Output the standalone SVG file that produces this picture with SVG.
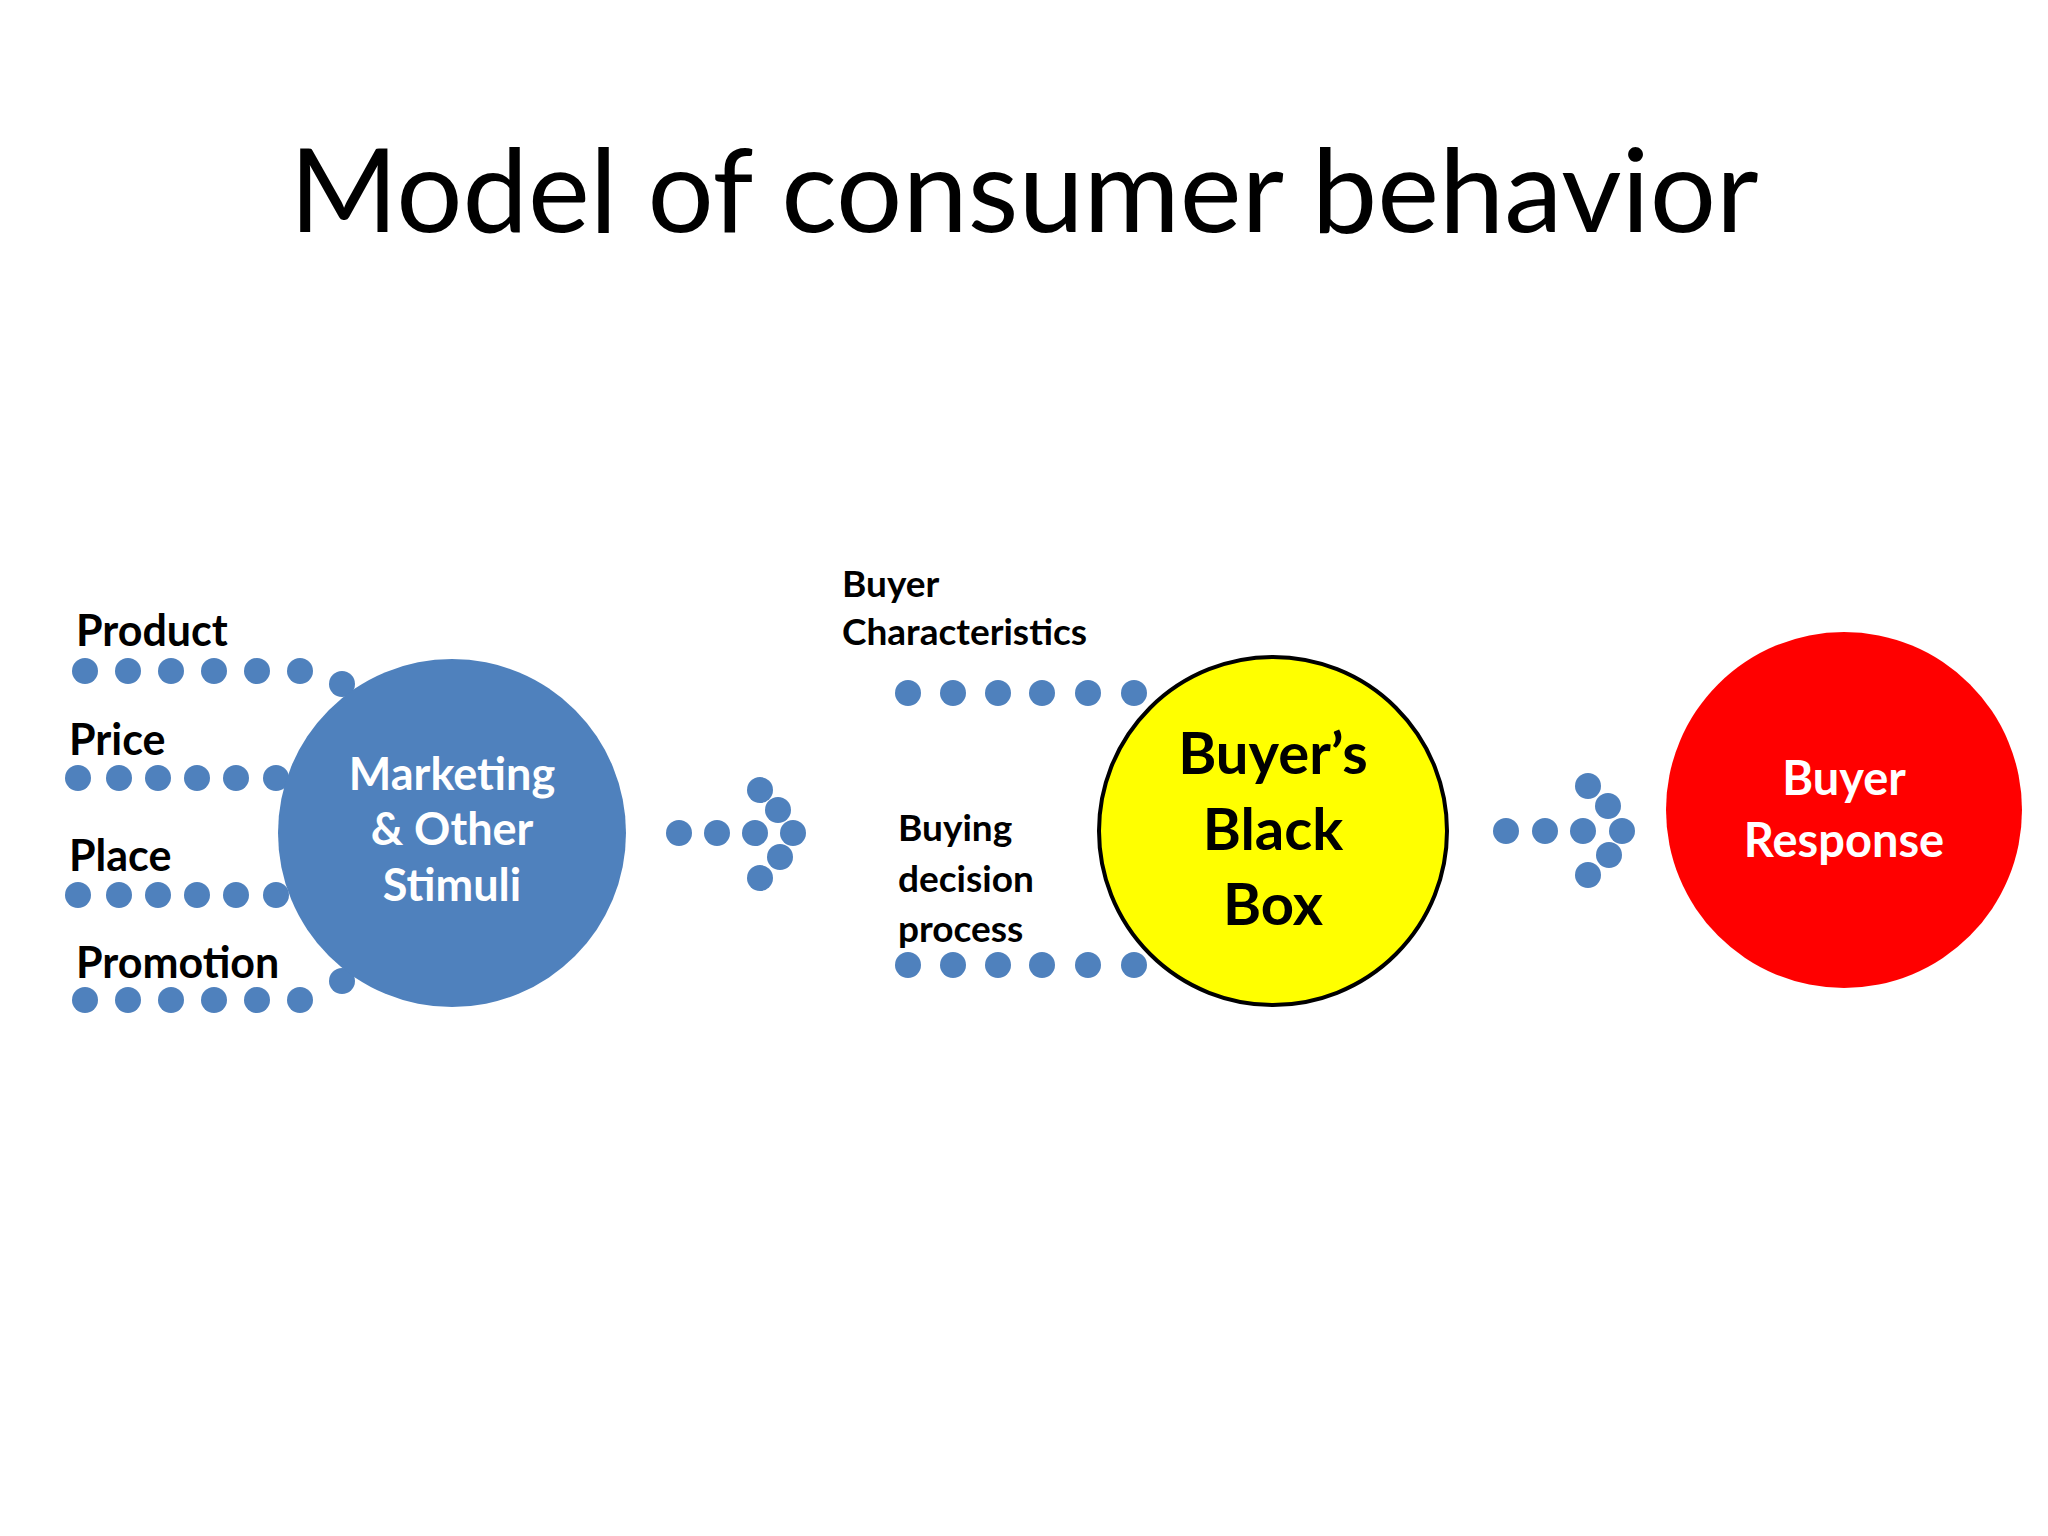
<svg xmlns="http://www.w3.org/2000/svg" width="2048" height="1536" viewBox="0 0 2048 1536">
<style>
.d{fill:#4F81BD}
.t{font-family:Lato,"Open Sans","Liberation Sans",sans-serif;font-weight:bold}
.l{font-size:43px;fill:#000}
.s{font-size:37px;fill:#000}
</style>
<rect width="2048" height="1536" fill="#fff"/>
<text x="1024" y="232" text-anchor="middle" font-family="Lato,'Open Sans','Liberation Sans',sans-serif" font-size="117" fill="#000">Model of consumer behavior</text>
<g id="connectors">
<g id="product-dots"><circle class="d" cx="85" cy="671" r="13"/><circle class="d" cx="128" cy="671" r="13"/><circle class="d" cx="171" cy="671" r="13"/><circle class="d" cx="214" cy="671" r="13"/><circle class="d" cx="257" cy="671" r="13"/><circle class="d" cx="300" cy="671" r="13"/><circle class="d" cx="342" cy="684" r="13"/></g>
<g id="price-dots"><circle class="d" cx="78" cy="778" r="13"/><circle class="d" cx="119" cy="778" r="13"/><circle class="d" cx="158" cy="778" r="13"/><circle class="d" cx="197" cy="778" r="13"/><circle class="d" cx="236" cy="778" r="13"/><circle class="d" cx="276" cy="778" r="13"/></g>
<g id="place-dots"><circle class="d" cx="78" cy="895" r="13"/><circle class="d" cx="119" cy="895" r="13"/><circle class="d" cx="158" cy="895" r="13"/><circle class="d" cx="197" cy="895" r="13"/><circle class="d" cx="236" cy="895" r="13"/><circle class="d" cx="276" cy="895" r="13"/></g>
<g id="promotion-dots"><circle class="d" cx="85" cy="1000" r="13"/><circle class="d" cx="128" cy="1000" r="13"/><circle class="d" cx="171" cy="1000" r="13"/><circle class="d" cx="214" cy="1000" r="13"/><circle class="d" cx="257" cy="1000" r="13"/><circle class="d" cx="300" cy="1000" r="13"/><circle class="d" cx="342" cy="981" r="13"/></g>
<g id="arrow1"><circle class="d" cx="679" cy="833" r="13"/><circle class="d" cx="717" cy="833" r="13"/><circle class="d" cx="755" cy="833" r="13"/><circle class="d" cx="793" cy="833" r="13"/><circle class="d" cx="760" cy="790" r="13"/><circle class="d" cx="778" cy="810" r="13"/><circle class="d" cx="780" cy="857" r="13"/><circle class="d" cx="760" cy="878" r="13"/></g>
<g id="char-dots"><circle class="d" cx="908" cy="693" r="13"/><circle class="d" cx="953" cy="693" r="13"/><circle class="d" cx="998" cy="693" r="13"/><circle class="d" cx="1042" cy="693" r="13"/><circle class="d" cx="1088" cy="693" r="13"/><circle class="d" cx="1134" cy="693" r="13"/></g>
<g id="decision-dots"><circle class="d" cx="908" cy="965" r="13"/><circle class="d" cx="953" cy="965" r="13"/><circle class="d" cx="998" cy="965" r="13"/><circle class="d" cx="1042" cy="965" r="13"/><circle class="d" cx="1088" cy="965" r="13"/><circle class="d" cx="1134" cy="965" r="13"/></g>
<g id="arrow2"><circle class="d" cx="1506" cy="831" r="13"/><circle class="d" cx="1545" cy="831" r="13"/><circle class="d" cx="1583" cy="831" r="13"/><circle class="d" cx="1622" cy="831" r="13"/><circle class="d" cx="1588" cy="786" r="13"/><circle class="d" cx="1608" cy="806" r="13"/><circle class="d" cx="1609" cy="855" r="13"/><circle class="d" cx="1588" cy="875" r="13"/></g>
</g>
<g id="labels" class="t">
<text class="l" x="76" y="646">Product</text>
<text class="l" x="69" y="755">Price</text>
<text class="l" x="69" y="871">Place</text>
<text class="l" x="76" y="978">Promotion</text>
<text class="s" x="842" y="597">Buyer</text>
<text class="s" x="842" y="645">Characteristics</text>
<text class="s" x="898" y="841">Buying</text>
<text class="s" x="898" y="892">decision</text>
<text class="s" x="898" y="942">process</text>
</g>
<g id="stimuli">
<circle cx="452" cy="833" r="174" fill="#4F81BD"/>
<text class="t" x="452" y="790" font-size="45" fill="#fff" text-anchor="middle">Marketing</text>
<text class="t" x="452" y="845" font-size="45" fill="#fff" text-anchor="middle">&amp; Other</text>
<text class="t" x="452" y="901" font-size="45" fill="#fff" text-anchor="middle">Stimuli</text>
</g>
<g id="blackbox">
<circle cx="1273" cy="831" r="174" fill="#FFFF00" stroke="#000" stroke-width="4"/>
<text class="t" x="1273" y="774" font-size="58" fill="#000" text-anchor="middle">Buyer’s</text>
<text class="t" x="1273" y="850" font-size="58" fill="#000" text-anchor="middle">Black</text>
<text class="t" x="1273" y="925" font-size="58" fill="#000" text-anchor="middle">Box</text>
</g>
<g id="response">
<circle cx="1844" cy="810" r="178" fill="#FF0000"/>
<text class="t" x="1844" y="795" font-size="47" fill="#fff" text-anchor="middle">Buyer</text>
<text class="t" x="1844" y="857" font-size="47" fill="#fff" text-anchor="middle">Response</text>
</g>
</svg>
